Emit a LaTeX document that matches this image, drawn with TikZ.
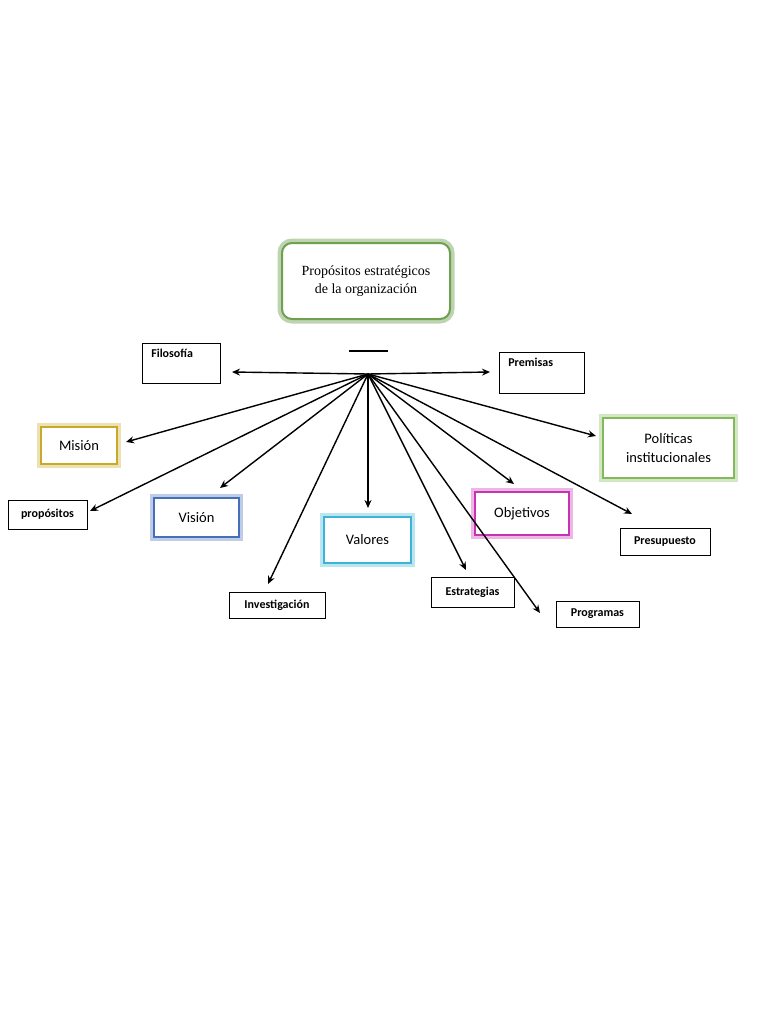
\documentclass[tikz,border=0pt]{standalone}
\usepackage{fontspec}
\setmainfont{Carlito}
\newfontfamily\titlefont{Liberation Serif}
\usetikzlibrary{arrows.meta, positioning}
\definecolor{misionc}{RGB}{200,170,40}
\definecolor{visionc}{RGB}{70,110,185}
\definecolor{valoresc}{RGB}{60,180,215}
\definecolor{objetc}{RGB}{200,50,180}
\definecolor{politc}{RGB}{130,185,90}
\definecolor{mainc}{RGB}{110,160,80}
\tikzset{
    plain/.style={rectangle, draw=black, fill=white, inner sep=0pt, font=\bfseries\fontsize{12}{14}\selectfont},
    glow/.style={rectangle, draw=#1, line width=2.5pt, fill=white, inner sep=0pt, font=\fontsize{14.5}{19}\selectfont,
        preaction={draw=#1, line width=8pt, opacity=0.35}},
    arrow/.style={-{Stealth[length=8pt,width=7pt]}, line width=1.4pt}
}
\begin{document}
\begin{tikzpicture}[x=1pt, y=-1pt]
\useasboundingbox (0,0) rectangle (768,1024);

% Main box
\node (main) [rectangle, rounded corners=10pt, draw=mainc, line width=2pt, fill=white,
    preaction={draw=mainc, line width=9pt, opacity=0.45, rounded corners=10pt},
    minimum width=168pt, minimum height=76pt, align=center, font=\titlefont\fontsize{14}{18}\selectfont]
    at (366,281) {Propósitos estratégicos\\de la organización};
\draw [line width=1.4pt] (349,351) -- (388,351);
\coordinate (hub) at (368,374);

% Plain boxes
\node (filo) [plain, minimum width=78pt, minimum height=40pt] at (181,363) {};
\node [anchor=north west, font=\bfseries\fontsize{12}{14}\selectfont, xshift=6pt, yshift=-3pt] at (filo.north west) {Filosofía};
\node (prem) [plain, minimum width=85pt, minimum height=41pt] at (541.5,372.5) {};
\node [anchor=north west, font=\bfseries\fontsize{12}{14}\selectfont, xshift=6pt, yshift=-3pt] at (prem.north west) {Premisas};
\node (prop) [plain, minimum width=79pt, minimum height=29pt] at (47.5,514.5) {propósitos};
\node (inve) [plain, minimum width=96pt, minimum height=26pt] at (277,605) {Investigación};
\node (estr) [plain, minimum width=83pt, minimum height=30pt] at (472.5,592) {Estrategias};
\node (prog) [plain, minimum width=83pt, minimum height=26pt] at (597.5,614) {Programas};
\node (pres) [plain, minimum width=90pt, minimum height=27pt] at (665,541.5) {Presupuesto};

% Coloured boxes
\node (mision) [glow=misionc, minimum width=76pt, minimum height=37pt] at (79,445.5) {Misión};
\node (vision) [glow=visionc, minimum width=85pt, minimum height=39pt] at (196.5,517.5) {Visión};
\node (valores) [glow=valoresc, minimum width=87pt, minimum height=46pt] at (367.5,540) {Valores};
\node (objet) [glow=objetc, minimum width=94pt, minimum height=43pt] at (522,513.5) {Objetivos};
\node (polit) [glow=politc, minimum width=131pt, minimum height=60pt, align=center] at (668.5,448) {Políticas\\institucionales};

% Arrows
\draw [arrow] (hub) -- (232,372);
\draw [arrow] (hub) -- (490,372);
\foreach \p in {(126,442), (90,511), (220,488), (268,584), (368,508),
                (466,570), (540,613), (514,484), (632,514), (596,436)}
    \draw [arrow] (hub) -- \p;

\end{tikzpicture}
\end{document}
